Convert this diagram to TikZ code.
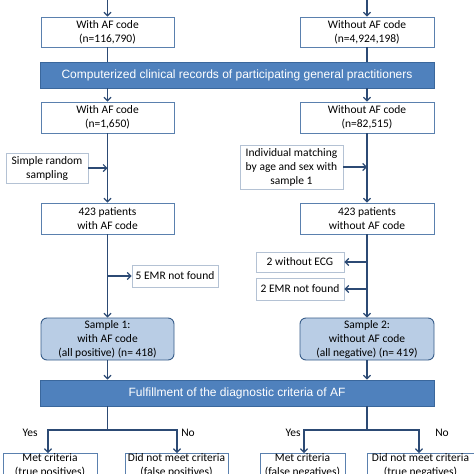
\documentclass[tikz,border=0pt]{standalone}
\usepackage{fontspec}
\setmainfont{Carlito}
\newfontfamily\bandfont{Liberation Sans}
\usetikzlibrary{arrows.meta}
\definecolor{bandfill}{HTML}{4F81BD}
\definecolor{banddraw}{HTML}{3A679C}
\definecolor{boxdraw}{HTML}{5A80AE}
\definecolor{lightdraw}{HTML}{B4C2D4}
\definecolor{sampfill}{HTML}{B9CDE5}
\definecolor{sampdraw}{HTML}{385D8A}
\definecolor{conn}{HTML}{2C4A74}
\tikzset{
  box/.style={draw=boxdraw, fill=white, line width=0.9pt, align=center, inner sep=0pt,
    font=\fontsize{11.5}{14}\selectfont, text=black},
  sidebox/.style={box, draw=lightdraw},
  sampbox/.style={box, fill=sampfill, draw=sampdraw, rounded corners=6pt},
  bandbox/.style={draw=banddraw, fill=bandfill, line width=0.9pt, inner sep=0pt,
    font=\bandfont\fontsize{12}{14}\selectfont, text=white},
  conline/.style={draw=conn, line width=1.4pt},
  arr/.style={conline, -{Straight Barb[length=3.5pt,width=7pt,line width=1.2pt]}},
  lbl/.style={font=\fontsize{11.5}{14}\selectfont, inner sep=0pt}
}
\begin{document}
\begin{tikzpicture}[x=1pt,y=-1pt]
\useasboundingbox (0,0) rectangle (474,474);
\clip (0,0) rectangle (474,474);
\fill[white] (0,0) rectangle (474,474);

\coordinate (s0l) at (107.5,-2);
\coordinate (s0r) at (367,-2);

\node[box, minimum width=133pt, minimum height=30pt] (t1) at (107.5,32) {With AF code\\(n=116,790)};
\node[box, minimum width=134pt, minimum height=30pt] (t2) at (367,32) {Without AF code\\(n=4,924,198)};

\node[bandbox, minimum width=394pt, minimum height=26pt] (band1) at (237,75) {Computerized clinical records of participating general practitioners};

\node[box, minimum width=133pt, minimum height=31pt] (m1) at (107.5,117.5) {With AF code\\(n=1,650)};
\node[box, minimum width=134pt, minimum height=31pt] (m2) at (367,117.5) {Without AF code\\(n=82,515)};

\node[sidebox, minimum width=82pt, minimum height=30pt] (srs) at (47,168) {Simple random\\sampling};
\node[sidebox, minimum width=103pt, minimum height=44pt] (ind) at (291.5,167) {Individual matching\\by age and sex with\\sample 1};

\node[box, minimum width=133pt, minimum height=31pt] (p1) at (107.5,218.5) {423 patients\\with AF code};
\node[box, minimum width=134pt, minimum height=31pt] (p2) at (367,218.5) {423 patients\\without AF code};

\node[sidebox, draw=lightdraw, minimum width=86pt, minimum height=22pt] (emr5) at (175,276) {5 EMR not found};
\node[sidebox, minimum width=88pt, minimum height=20pt] (ecg) at (300,262) {2 without ECG};
\node[sidebox, minimum width=88pt, minimum height=22pt] (emr2) at (300,289) {2 EMR not found};

\node[sampbox, minimum width=133pt, minimum height=42pt] (s1) at (107.5,339) {Sample 1:\\with AF code\\(all positive) (n= 418)};
\node[sampbox, minimum width=134pt, minimum height=42pt] (s2) at (367,339) {Sample 2:\\without AF code\\(all negative) (n= 419)};

\node[bandbox, minimum width=394pt, minimum height=26pt] (band2) at (237,393) {Fulfillment of the diagnostic criteria of AF};

\node[box, minimum width=94pt, minimum height=42pt, anchor=north] (b1) at (50,453) {Met criteria\\(true positives)\\[12pt]};
\node[box, minimum width=103pt, minimum height=42pt, anchor=north] (b2) at (176.5,453) {Did not meet criteria\\(false positives)\\[12pt]};
\node[box, minimum width=85pt, minimum height=42pt, anchor=north] (b3) at (302.5,453) {Met criteria\\(false negatives)\\[12pt]};
\node[box, minimum width=107pt, minimum height=42pt, anchor=north] (b4) at (420.5,453) {Did not meet criteria\\(true negatives)\\[12pt]};

\coordinate (jl) at (107.5,430);
\coordinate (jr) at (367,430);

% connectors
\draw[arr] (s0l) -- (t1.north);
\draw[arr] (s0r) -- (t2.north);
\draw[conline] (t1.south) -- (t1.south |- band1.north);
\draw[conline] (t2.south) -- (t2.south |- band1.north);
\draw[arr] (m1.north |- band1.south) -- (m1.north);
\draw[arr] (m2.north |- band1.south) -- (m2.north);
\draw[arr] (m1.south) -- (p1.north);
\draw[arr] (m2.south) -- (p2.north);
\draw[arr] (srs.east) -- (srs.east -| m1.south);
\draw[arr] (ind.east) -- (ind.east -| m2.south);
\draw[arr] (p1.south) -- (s1.north);
\draw[arr] (p2.south) -- (s2.north);
\draw[arr] (emr5.west -| p1.south) -- (emr5.west);
\draw[arr] (ecg.east -| p2.south) -- (ecg.east);
\draw[arr] (emr2.east -| p2.south) -- (emr2.east);
\draw[arr] (s1.south) -- (s1.south |- band2.north);
\draw[arr] (s2.south) -- (s2.south |- band2.north);

\draw[conline] (jl |- band2.south) -- (jl);
\draw[conline] (jr |- band2.south) -- (jr);
\draw[arr] (jl) -| (48,453) coordinate (a1);
\draw[arr] (jl) -| (177,453) coordinate (a2);
\draw[arr] (jr) -| (304,453) coordinate (a3);
\draw[arr] (jr) -| (419,453) coordinate (a4);

\node[lbl] (yes1) at (30,433) {Yes};
\node[lbl] (no1) at (188,433) {No};
\node[lbl] (yes2) at (293,433) {Yes};
\node[lbl] (no2) at (442,433) {No};
\end{tikzpicture}
\end{document}
